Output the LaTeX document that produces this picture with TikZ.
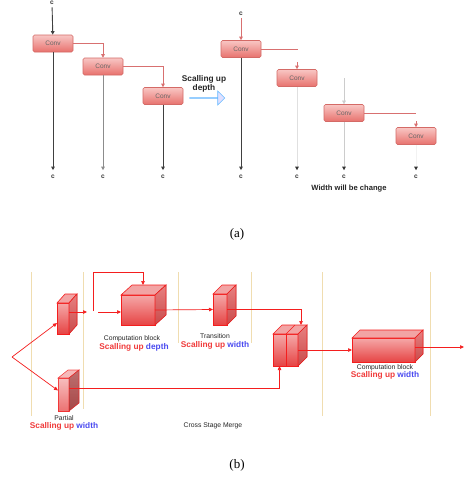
\documentclass[tikz,border=0pt]{standalone}
\usepackage{fontspec}
\setmainfont{Liberation Sans}
\newfontfamily\capfont{Liberation Serif}
\usetikzlibrary{arrows.meta,calc,shapes.arrows}
\definecolor{convtop}{HTML}{F8C6C4}
\definecolor{convbot}{HTML}{E8716D}
\definecolor{convdraw}{HTML}{D46A66}
\definecolor{pinkln}{HTML}{D87070}
\definecolor{tanln}{HTML}{F0DDB0}
\definecolor{cred}{HTML}{F41E1E}
\definecolor{tred}{HTML}{F03A3A}
\definecolor{tblue}{HTML}{4A4AF0}
\definecolor{cubetop}{HTML}{F2A4A4}
\definecolor{sidetop}{HTML}{E88080}
\definecolor{sidebot}{HTML}{C84A4A}
\definecolor{fronttop}{HTML}{F5A8A8}
\definecolor{frontbot}{HTML}{E64444}
\newcommand\cubesides[4]{% west node, east node, dx, dy
  \filldraw[cubeedge, fill=cubetop] (#1.north west) -- ($(#1.north west)+(#3,-#4)$) -- ($(#2.north east)+(#3,-#4)$) -- (#2.north east) -- cycle;
  \filldraw[cubeedge, top color=sidetop, bottom color=sidebot] (#2.north east) -- ($(#2.north east)+(#3,-#4)$) -- ($(#2.south east)+(#3,-#4)$) -- (#2.south east) -- cycle;}
\tikzset{
  conv/.style={draw=convdraw, line width=0.6pt, rounded corners=1.5pt, top color=convtop, bottom color=convbot,
    minimum width=40pt, minimum height=17pt, inner sep=0pt, font=\fontsize{6.5}{7}\selectfont, text=black!60},
  clabel/.style={font=\bfseries\fontsize{6.5}{7}\selectfont, inner sep=1.5pt, outer sep=3.5pt, text=black!80},
  pinkarrow/.style={draw=pinkln, line width=0.6pt, -{Triangle[length=3.5pt,width=3.5pt]}},
  pinkline/.style={draw=pinkln, line width=0.6pt},
  darkarrow/.style={draw=black!75, line width=0.9pt, -{Triangle[length=3.5pt,width=3.5pt]}},
  grayarrow/.style={draw=black!45, line width=0.6pt, -{Triangle[length=3.5pt,width=3.5pt]}},
  tipblack/.style={draw=black!12, line width=0.6pt, -{Triangle[length=3.5pt,width=3.5pt,color=black!80]}},
  cubefront/.style={draw=cred, line width=0.6pt, top color=fronttop, bottom color=frontbot, inner sep=0pt, outer sep=0pt},
  cubeedge/.style={draw=cred, line width=0.6pt},
  redarrow/.style={draw=cred, line width=0.7pt, -{Triangle[length=4pt,width=3.5pt]}},
  tan/.style={draw=tanln, line width=0.9pt},
  small/.style={font=\fontsize{6.8}{8}\selectfont, text=black!85, inner sep=0pt},
  big/.style={font=\bfseries\fontsize{8.3}{10}\selectfont, inner sep=0pt},
  caption/.style={font=\capfont\fontsize{13}{15}\selectfont, inner sep=0pt}
}
\begin{document}
\begin{tikzpicture}[x=1pt,y=-1pt]
\useasboundingbox (0,0) rectangle (474,482);
\fill[white] (0,0) rectangle (474,482);

% ---------- panel (a), left ----------
\node[clabel, outer sep=1pt] (ct1) at (52,3) {c};
\node[conv] (conv1) at (53,43.5) {Conv};
\node[conv] (conv2) at (103,66.5) {Conv};
\node[conv] (conv3) at (163,96) {Conv};
\node[clabel] (cb1) at (53,177) {c};
\node[clabel] (cb2) at (103,177) {c};
\node[clabel] (cb3) at (163,177) {c};
\draw[darkarrow] (ct1) -- (conv1);
\draw[pinkarrow] (conv1.east) -| (conv2.north);
\draw[pinkarrow] (conv2.east) -| (conv3.north);
\draw[darkarrow] (conv1) -- (cb1);
\draw[grayarrow] (conv2) -- (cb2);
\draw[darkarrow] (conv3) -- (cb3);

% label and hollow arrow
\node[font=\bfseries\fontsize{8.3}{9.5}\selectfont, align=center, inner sep=0pt, text=black!85] (scaledepth) at (204,84) {Scalling up\\depth};
\node[single arrow, draw=blue!45!cyan!60, fill=blue!12, line width=0.6pt, minimum width=14pt,
      single arrow head extend=4.5pt, minimum height=35pt, inner sep=0pt] (bigarrow) at (207,98) {};

% ---------- panel (a), right ----------
\node[clabel, outer sep=1pt] (ct4) at (241,14) {c};
\node[conv] (conv4) at (241,49) {Conv};
\node[conv] (conv5) at (297,78) {Conv};
\node[conv] (conv6) at (344,113) {Conv};
\node[conv] (conv7) at (416,136) {Conv};
\node[clabel] (cb4) at (241,177) {c};
\node[clabel] (cb5) at (297,177) {c};
\node[clabel] (cb6) at (344,177) {c};
\node[clabel] (cb7) at (416,177) {c};
\coordinate (e4) at (298,49);
\coordinate (s5) at (297,62);
\coordinate (e6) at (416,113);
\coordinate (s7) at (416,121);
\coordinate (s6) at (344,78);
\draw[pinkarrow] (ct4) -- (conv4);
\draw[pinkline] (conv4.east) -- (e4);
\draw[pinkarrow] (s5) -- (conv5.north);
\draw[pinkline] (conv6.east) -- (e6);
\draw[pinkarrow] (s7) -- (conv7.north);
\draw[grayarrow, line width=0.3pt, draw=black!20] (s6) -- (conv6.north);
\draw[darkarrow] (conv4) -- (cb4);
\draw[tipblack] (conv5) -- (cb5);
\draw[tipblack, draw=black!20] (conv6) -- (cb6);
\draw[tipblack, draw=black!5] (conv7) -- (cb7);
\node[font=\bfseries\fontsize{7.6}{9}\selectfont, inner sep=0pt, text=black!85] (widthnote) at (349,189) {Width will be change};

\node[caption] (capa) at (237,234) {(a)};

% ---------- panel (b) ----------
\draw[tan] (31,272) -- (31,416);
\draw[tan] (83,272) -- (83,409);
\draw[tan] (178,272) -- (178,343);
\draw[tan] (251,272) -- (251,343);
\draw[tan] (322,272) -- (322,416);
\draw[tan] (430,272) -- (430,416);

% cubes
\node[cubefront, minimum width=12pt, minimum height=31pt] (up) at (63,318.5) {};
\cubesides{up}{up}{8}{9}
\begin{scope}[opacity=0.75]
\node[cubefront, minimum width=11pt, minimum height=33pt] (partial) at (63.5,394.5) {};
\cubesides{partial}{partial}{10}{8}
\end{scope}
\node[cubefront, minimum width=34pt, minimum height=30pt] (comp) at (138,310) {};
\cubesides{comp}{comp}{11}{10}
\node[cubefront, minimum width=14pt, minimum height=31pt] (trans) at (220,309.5) {};
\cubesides{trans}{trans}{9}{9}
\node[cubefront, minimum width=13pt, minimum height=32pt] (ma) at (279.5,350) {};
\node[cubefront, minimum width=12pt, minimum height=32pt] (mb) at (292,350) {};
\cubesides{ma}{mb}{9}{9}
\draw[cubeedge] (ma.north east) -- ++(9,-9);
\node[cubefront, minimum width=63pt, minimum height=24pt] (final) at (383.5,350) {};
\cubesides{final}{final}{8}{8}

% connectors
\coordinate (src) at (12,357);
\coordinate (gap) at (87,312);
\coordinate (gap2) at (98,312);
\coordinate (loopstart) at (93,311);
\coordinate (loopend) at (143,285);
\coordinate (mtop) at (301,325);
\coordinate (out) at (464,347);
\draw[redarrow] (src) -- (up);
\draw[redarrow] (src) -- (partial);
\draw[redarrow] (up.east |- gap) -- (gap);
\draw[redarrow] (gap2) -- (gap2 -| comp.west);
\draw[redarrow] (loopstart) -- (93,272) -| (loopend);
\draw[redarrow] (comp.east) -- (trans.west);
\draw[redarrow] (trans.east) -| (mtop);
\draw[redarrow] ($(partial.east)+(0,-6.5)$) -| (ma.south);
\draw[redarrow] (mb.east) -- (final.west);
\draw[redarrow] (final.east |- out) -- (out);

% labels
\node[small] (lcomp) at (132,339) {Computation block};
\node[big] (scomp) at (134,347.5) {\textcolor{tred}{Scalling up} \textcolor{tblue}{depth}};
\node[small] (ltrans) at (215,336) {Transition};
\node[big] (strans) at (215,345) {\textcolor{tred}{Scalling up} \textcolor{tblue}{width}};
\node[small] (lpart) at (64,418) {Partial};
\node[big] (spart) at (64,426.5) {\textcolor{tred}{Scalling up} \textcolor{tblue}{width}};
\node[small] (lmerge) at (213,426) {Cross Stage Merge};
\node[small] (lfinal) at (385,368) {Computation block};
\node[big] (sfinal) at (385,375.5) {\textcolor{tred}{Scalling up} \textcolor{tblue}{width}};

\node[caption] (capb) at (237,465) {(b)};
\end{tikzpicture}
\end{document}
